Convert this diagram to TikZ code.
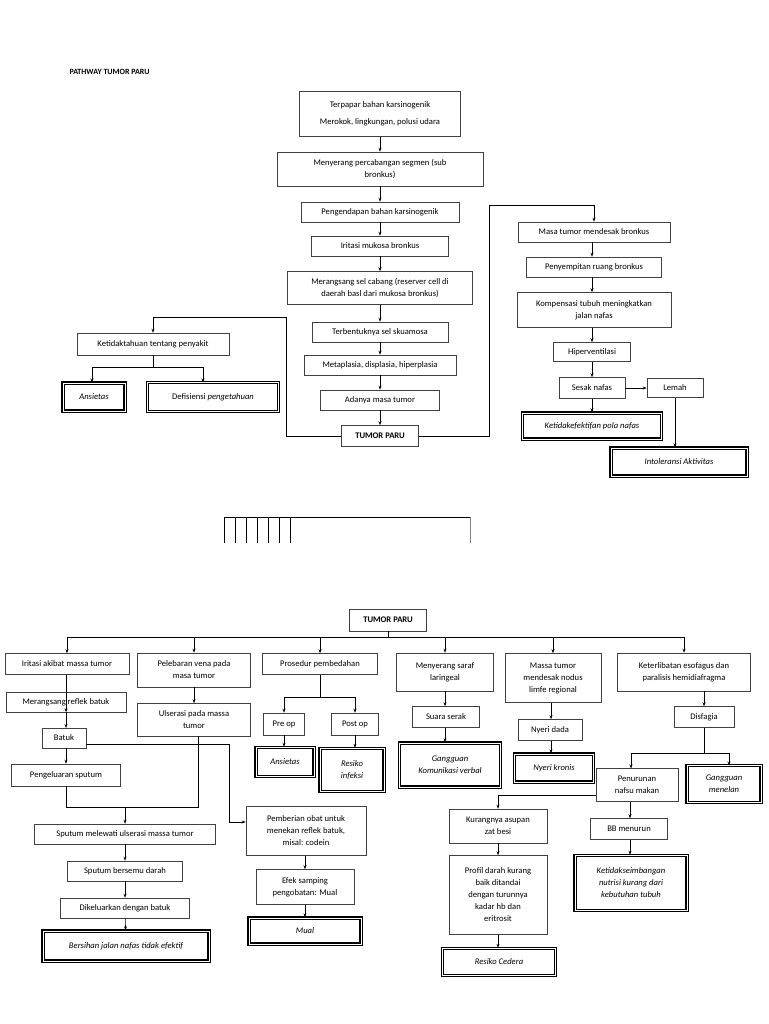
\documentclass[tikz,border=0pt]{standalone}
\usepackage{fontspec}
\setmainfont{Carlito}
\usetikzlibrary{arrows.meta}
\tikzset{
 box/.style={draw=black!75,line width=0.6pt,align=center,inner sep=1pt,font=\fontsize{8.6}{12}\selectfont},
 dx/.style={box,draw=black,line width=1.4pt,double=white,double distance=0.7pt,font=\fontsize{8.6}{12}\selectfont\itshape},
 arr/.style={-{Stealth[length=4pt,width=3pt]},line width=0.6pt},
 ln/.style={line width=0.6pt}
}
\begin{document}
\begin{tikzpicture}[x=1pt,y=-1pt]
\useasboundingbox (0,0) rectangle (768,1024);
\node[anchor=west,font=\fontsize{8}{10}\selectfont\bfseries] (title) at (66,72) {PATHWAY TUMOR PARU};
% top column
\node[box,minimum width=161,minimum height=45] (A) at (380,114) {Terpapar bahan karsinogenik\\[5pt]Merokok, lingkungan, polusi udara};
\node[box,minimum width=206,minimum height=34] (B) at (380,169) {Menyerang percabangan segmen (sub\\bronkus)};
\node[box,minimum width=158,minimum height=20] (C) at (380,212) {Pengendapan bahan karsinogenik};
\node[box,minimum width=137,minimum height=20] (D) at (380,246) {Iritasi mukosa bronkus};
\node[box,minimum width=185,minimum height=33] (E) at (380,288) {Merangsang sel cabang (reserver cell di\\daerah basl dari mukosa bronkus)};
\node[box,minimum width=136,minimum height=20] (F) at (380,332) {Terbentuknya sel skuamosa};
\node[box,minimum width=152,minimum height=20] (G) at (380,365) {Metaplasia, displasia, hiperplasia};
\node[box,minimum width=119,minimum height=20] (H) at (380,400) {Adanya masa tumor};
\node[box,minimum width=77,minimum height=21,font=\fontsize{8.6}{12}\selectfont\bfseries] (T1) at (380,436) {TUMOR PARU};
\foreach \a/\b in {A/B,B/C,C/D,D/E,E/F,F/G,G/H,H/T1} \draw[arr] (\a) -- (\b);
% left
\node[box,minimum width=152,minimum height=22] (K) at (153,344) {Ketidaktahuan tentang penyakit};
\node[dx,minimum width=62,minimum height=28] (An1) at (94,397) {Ansietas};
\node[dx,minimum width=131,minimum height=29] (Def) at (213,397) {\upshape Defisiensi \itshape pengetahuan};
\draw[arr] (T1.west) -| (286,317) -| (K.north);
\draw[ln] (K.south) -- (153,367);
\draw[arr] (153,367) -| (92,382.5);
\draw[arr] (153,367) -| (203,382.5);
% right
\node[box,minimum width=152,minimum height=20] (M1) at (594,232) {Masa tumor mendesak bronkus};
\node[box,minimum width=135,minimum height=20] (M2) at (594,267) {Penyempitan ruang bronkus};
\node[box,minimum width=154,minimum height=35] (M3) at (594,310) {Kompensasi tubuh meningkatkan\\jalan nafas};
\node[box,minimum width=77,minimum height=19] (M4) at (592,352) {Hiperventilasi};
\node[box,minimum width=66,minimum height=21] (M5) at (592,388) {Sesak nafas};
\node[box,minimum width=56,minimum height=19] (Le) at (675,388) {Lemah};
\node[dx,minimum width=139,minimum height=26] (Kef) at (592,426) {Ketidakefektifan pola nafas};
\node[dx,minimum width=136,minimum height=28] (Int) at (679,462) {Intoleransi Aktivitas};
\draw[arr] (T1.east) -| (489,205) -| (M1.north);
\foreach \a/\b in {M1/M2,M2/M3,M3/M4,M4/M5,M5/Kef} \draw[arr] (\a.south -| 592,0) -- (\b.north -| 592,0);
\draw[arr] (M5) -- (Le);
\draw[arr] (Le.south) -- (Le.south |- Int.north);
% middle bar
\draw[line width=1pt] (224,517) -- (470,517);
\foreach \x in {224,235,246,257,268,279,290} \draw[line width=0.6pt] (\x,517) -- (\x,543);
\draw[line width=0.5pt,black!50] (470,517) -- (470,543);
% bottom
\node[box,minimum width=77,minimum height=22,font=\fontsize{8.6}{12}\selectfont\bfseries] (T2) at (388,620) {TUMOR PARU};
\node[box,minimum width=124,minimum height=21] (R1) at (67,664) {Iritasi akibat massa tumor};
\node[box,minimum width=113,minimum height=34] (R2) at (194,670) {Pelebaran vena pada\\masa tumor};
\node[box,minimum width=115,minimum height=21] (R3) at (320,664) {Prosedur pembedahan};
\node[box,minimum width=97,minimum height=38] (R4) at (445,672) {Menyerang saraf\\laringeal};
\node[box,minimum width=96,minimum height=49] (R5) at (553,678) {Massa tumor\\mendesak nodus\\limfe regional};
\node[box,minimum width=133,minimum height=38] (R6) at (684,672) {Keterlibatan esofagus dan\\paralisis hemidiafragma};
\coordinate (bus) at (0,637);
\draw[ln] (T2.south) -- (T2.south |- bus);
\draw[ln] (R1.north |- bus) -- (R6.north |- bus);
\foreach \n in {R1,R2,R3,R4,R5,R6} \draw[arr] (\n.north |- bus) -- (\n.north);
% col1
\node[box,minimum width=120,minimum height=20] (P1) at (66,702) {Merangsang reflek batuk};
\node[box,minimum width=44,minimum height=20] (P2) at (64,738) {Batuk};
\node[box,minimum width=109,minimum height=22] (P3) at (66,775) {Pengeluaran sputum};
\node[box,minimum width=113,minimum height=33] (U) at (194,720) {Ulserasi pada massa\\tumor};
\node[box,minimum width=181,minimum height=20] (S1) at (125,834) {Sputum melewati ulserasi massa tumor};
\node[box,minimum width=115,minimum height=20] (S2) at (125,871) {Sputum bersemu darah};
\node[box,minimum width=129,minimum height=20] (S3) at (125,908) {Dikeluarkan dengan batuk};
\node[dx,minimum width=166,minimum height=30] (S4) at (126,946) {Bersihan jalan nafas tidak efektif};
\draw[arr] (R1.south -| 66,0) -- (P1.south -| 66,0 |- P1.north);
\draw[arr] (P1.south -| 66,0) -- (66,728);
\draw[arr] (66,748) -- (P3.north -| 66,0);
\draw[arr] (R2) -- (U);
\draw[ln] (P3.south -| 66,0) -- (66,807) -- (198,807) -- (198,736);
\draw[arr] (125,807) -- (S1.north);
\draw[arr] (S1) -- (S2); \draw[arr] (S2) -- (S3); \draw[arr] (S3) -- (S4);
% col3
\node[box,minimum width=120,minimum height=49] (Pb) at (306,831) {Pemberian obat untuk\\menekan reflek batuk,\\misal: codein};
\node[box,minimum width=98,minimum height=35] (Ef) at (305,887) {Efek samping\\pengobatan: Mual};
\node[dx,minimum width=112,minimum height=26] (Mu) at (305,931) {Mual};
\draw[arr] (P2.east |- 0,744) -| (229,822) -- (Pb.west |- 0,822);
\draw[arr] (Pb.south -| 305,0) -- (Ef); \draw[arr] (Ef) -- (Mu);
\node[box,minimum width=41,minimum height=22] (Pre) at (284,724) {Pre op};
\node[box,minimum width=47,minimum height=22] (Post) at (355,724) {Post op};
\node[dx,minimum width=58,minimum height=29] (An2) at (285,762) {Ansietas};
\node[dx,minimum width=64,minimum height=43] (Ri) at (352,770) {Resiko\\infeksi};
\draw[ln] (R3.south) -- (320,697);
\draw[arr] (320,697) -| (Pre.north);
\draw[arr] (320,697) -| (Post.north);
\draw[arr] (Pre) -- (Pre.south |- An2.north);
\draw[arr] (Post) -- (Post.south |- Ri.north);
% col4-6
\node[box,minimum width=67,minimum height=21] (Su) at (446,717) {Suara serak};
\node[dx,minimum width=101,minimum height=44] (Gk) at (450,765) {Gangguan\\Komunikasi verbal};
\draw[arr] (R4.south -| 445,0) -- (Su.north -| 445,0);
\draw[arr] (Su.south -| 445,0) -- (Gk.north -| 445,0);
\node[box,minimum width=64,minimum height=21] (Ny) at (550,730) {Nyeri dada};
\node[dx,minimum width=79,minimum height=28] (Nk) at (554,768) {Nyeri kronis};
\draw[arr] (R5.south -| 551,0) -- (Ny.north -| 551,0);
\draw[arr] (Ny.south -| 551,0) -- (Nk.north -| 551,0);
\node[box,minimum width=60,minimum height=21] (Di) at (704,717) {Disfagia};
\draw[arr] (R6.south -| 704,0) -- (Di.north);
\node[box,minimum width=82,minimum height=33] (Pn) at (637,785) {Penurunan\\nafsu makan};
\node[dx,minimum width=74,minimum height=37] (Gm) at (724,784) {Gangguan\\menelan};
\draw[ln] (Di.south) -- (704,753);
\draw[ln] (631,753) -- (729,753);
\draw[arr] (631,753) -- (631,768.5);
\draw[arr] (729,753) -- (729,765.5);
\node[box,minimum width=98,minimum height=34] (Ku) at (498,826) {Kurangnya asupan\\zat besi};
\node[box,minimum width=98,minimum height=79] (Pr) at (498,895) {Profil darah kurang\\baik ditandai\\dengan turunnya\\kadar hb dan\\eritrosit};
\node[dx,minimum width=113,minimum height=27] (Rc) at (499,962) {Resiko Cedera};
\draw[arr] (Pn.west |- 0,795) -| (Ku.north);
\draw[arr] (Ku) -- (Pr); \draw[arr] (Pr) -- (Rc.north -| Pr.south);
\node[box,minimum width=77,minimum height=21] (BB) at (629,829) {BB menurun};
\node[dx,minimum width=112,minimum height=55] (Kt) at (631,883) {Ketidakseimbangan\\nutrisi kurang dari\\kebutuhan tubuh};
\draw[arr] (Pn.south -| 630,0) -- (BB.north -| 630,0);
\draw[arr] (BB.south -| 630,0) -- (Kt.north -| 630,0);
\end{tikzpicture}
\end{document}
